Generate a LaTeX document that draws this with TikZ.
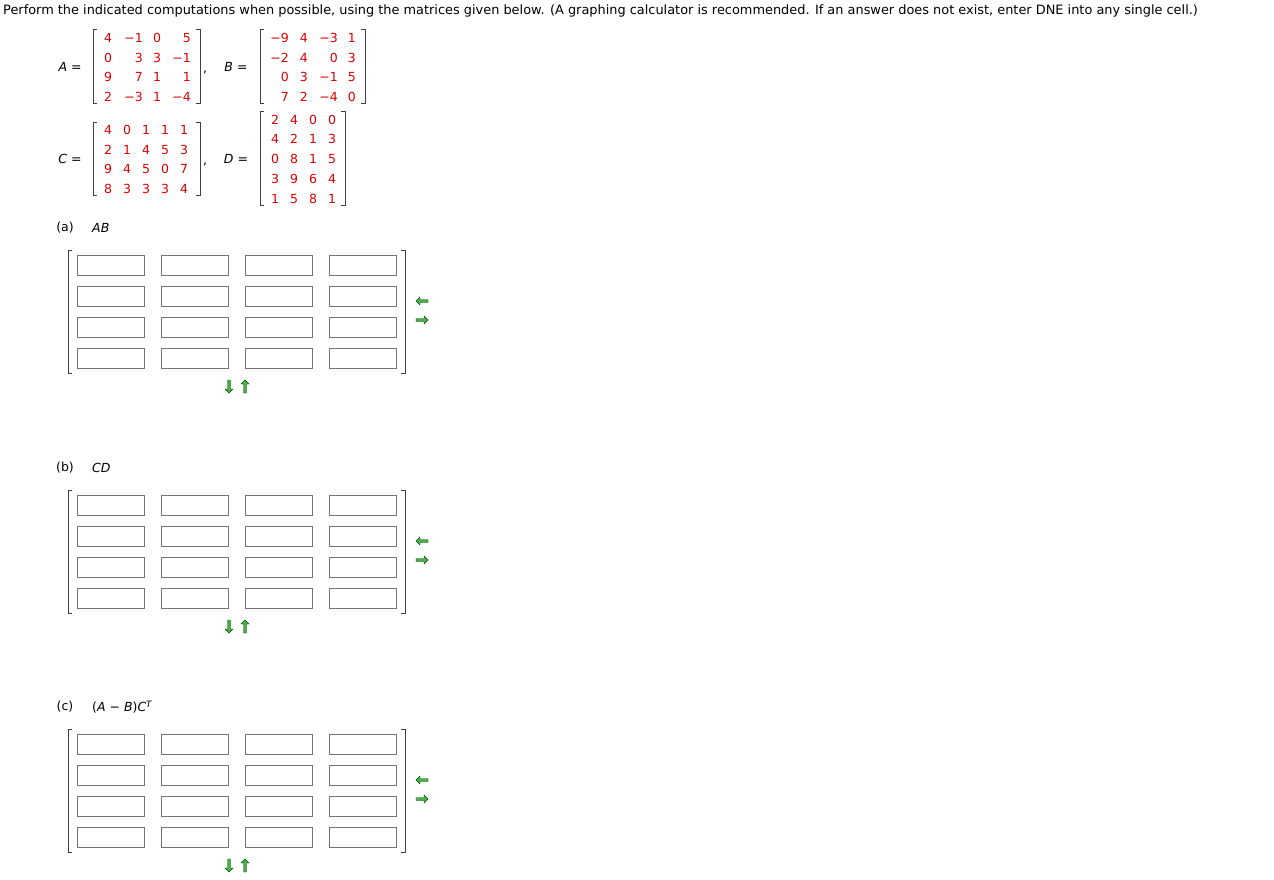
\documentclass[tikz,border=0pt]{standalone}
\usepackage{fontspec}
\setmainfont{DejaVu Sans}
\begin{document}
\begin{tikzpicture}[x=1pt,y=-1pt,
 red/.style={text=red!85!black,font=\fontsize{12.5}{13}\selectfont,inner sep=0},
 lbl/.style={font=\fontsize{12.5}{13}\selectfont,inner sep=0},
 cell/.style={draw=black!55,line width=0.8pt,minimum width=67pt,minimum height=20pt,inner sep=0},
 brk/.style={line width=0.8pt,black!75},
 garrow/.style={fill=green!55!black!70,draw=green!30!black,line width=0.4pt}]
\useasboundingbox (0,0) rectangle (1274,880);
\node[lbl,anchor=west,font=\fontsize{12.9}{13}\selectfont] (hdr) at (3,11) {Perform the indicated computations when possible, using the matrices given below. (A graphing calculator is recommended. If an answer does not exist, enter DNE into any single cell.)};
% A
\node[lbl] (Aeq) at (70,67) {\textit{A} =};
\draw[brk] (97,29)--(93,29)--(93,103)--(97,103) (196,29)--(200,29)--(200,103)--(196,103);
\node[lbl] (c1) at (205,72) {,};
\foreach \y/\a/\b/\c/\d in {38/4/−1/0/5,58/0/3/3/−1,77/9/7/1/1,97/2/−3/1/−4}{
 \node[red] at (108,\y) {\a};
 \node[red,anchor=east] at (143,\y) {\b};
 \node[red] at (157,\y) {\c};
 \node[red,anchor=east] at (191,\y) {\d};}
% B
\node[lbl] (Beq) at (236,67) {\textit{B} =};
\draw[brk] (264,29)--(260,29)--(260,103)--(264,103) (361,29)--(365,29)--(365,103)--(361,103);
\foreach \y/\a/\b/\c/\d in {38/−9/4/−3/1,58/−2/4/0/3,77/0/3/−1/5,97/7/2/−4/0}{
 \node[red,anchor=east] at (289,\y) {\a};
 \node[red,anchor=east] at (308,\y) {\b};
 \node[red,anchor=east] at (338,\y) {\c};
 \node[red,anchor=east] at (356,\y) {\d};}
% C
\node[lbl] (Ceq) at (70,159) {\textit{C} =};
\draw[brk] (97,122)--(93,122)--(93,195)--(97,195) (196,122)--(200,122)--(200,195)--(196,195);
\node[lbl] (c2) at (205,164) {,};
\foreach \y/\r in {130/{4,0,1,1,1},150/{2,1,4,5,3},169/{9,4,5,0,7},189/{8,3,3,3,4}}{
 \foreach \v [count=\i] in \r { \node[red] at (89+19*\i,\y) {\v}; }}
% D
\node[lbl] (Deq) at (236,159) {\textit{D} =};
\draw[brk] (264,111)--(260,111)--(260,205)--(264,205) (341,111)--(345,111)--(345,205)--(341,205);
\foreach \y/\r in {120/{2,4,0,0},139/{4,2,1,3},159/{0,8,1,5},179/{3,9,6,4},199/{1,5,8,1}}{
 \foreach \v [count=\i] in \r { \node[red] at (256+19*\i,\y) {\v}; }}
% parts
\foreach \p/\lab/\off in {a/{\textit{AB}}/0,b/{\textit{CD}}/240,c/{(\textit{A} − \textit{B})\textit{C}\textsuperscript{\textit{T}}}/479}{
 \node[lbl] (l\p) at (65,228+\off) {(\p)};
 \node[lbl,anchor=west] (m\p) at (92,228+\off) {\lab};
 \draw[brk] (72,250+\off)--(68,250+\off)--(68,373+\off)--(72,373+\off)
            (401,250+\off)--(405,250+\off)--(405,373+\off)--(401,373+\off);
 \foreach \yy [count=\r] in {265,296,327,358}{
  \foreach \xx [count=\c] in {110.5,194.5,278.5,362.5}{
   \node[cell] (g\p\r\c) at (\xx,\yy+\off) {};}}
 \draw[garrow] (416,301+\off)--(420,297+\off)--(420,299.5+\off)--(428,299.5+\off)--(428,302.5+\off)--(420,302.5+\off)--(420,305+\off)--cycle;
 \draw[garrow] (428,320+\off)--(424,316+\off)--(424,318.5+\off)--(416,318.5+\off)--(416,321.5+\off)--(424,321.5+\off)--(424,324+\off)--cycle;
 \draw[garrow] (229,393+\off)--(225,389+\off)--(227.5,389+\off)--(227.5,380+\off)--(230.5,380+\off)--(230.5,389+\off)--(233,389+\off)--cycle;
 \draw[garrow] (245,380+\off)--(241,384+\off)--(243.5,384+\off)--(243.5,393+\off)--(246.5,393+\off)--(246.5,384+\off)--(249,384+\off)--cycle;
}
\end{tikzpicture}
\end{document}
